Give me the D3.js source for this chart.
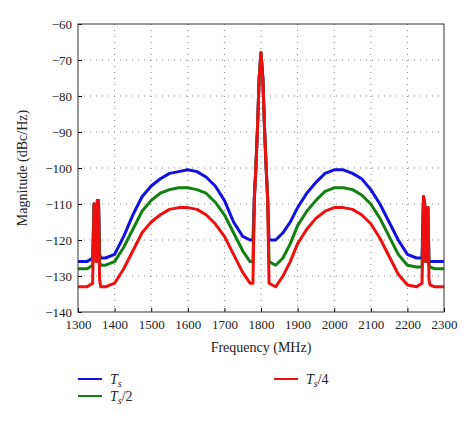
<!DOCTYPE html><html><head><meta charset="utf-8"><script src="https://cdn.jsdelivr.net/npm/d3@7"></script>
<style>body{margin:0;background:#fff}text{font-family:"Liberation Serif","DejaVu Serif",serif}</style></head><body><svg id="c" width="474" height="422"></svg>
<script>
const freq=[1300,1325,1340,1344,1347,1350,1353,1356,1359,1362,1375,1400,1425,1450,1475,1500,1525,1550,1575,1600,1625,1650,1675,1700,1725,1750,1770,1778,1782,1785,1790,1795,1800,1805,1810,1815,1818,1822,1840,1860,1880,1900,1925,1950,1975,2000,2025,2050,2075,2100,2125,2150,2175,2200,2225,2240,2244,2247,2250,2253,2256,2259,2262,2275,2300];
const ts =[-126,-126,-125,-110,-113,-126,-109,-109,-124,-125,-125,-124,-119,-113,-108,-105,-103,-101.5,-101,-100.5,-101,-102.5,-105,-109,-115,-119,-120,-120,-108,-102,-90,-75,-68,-75,-90,-102,-108,-120,-120,-118,-115,-111,-107,-104,-101.5,-100.5,-100.5,-101.5,-103,-106,-110,-115,-120,-124,-125,-125,-108,-110,-126,-111,-111,-126,-126,-126,-126];
const ts2=[-128,-128,-127,-110,-113,-126,-109,-109,-126,-127,-127,-126,-122,-117,-112,-109,-107,-106,-105.5,-105.5,-106,-107,-109.5,-113,-118,-123,-126,-126,-108,-102,-90,-75,-68,-75,-90,-102,-108,-126,-127,-125,-121,-116,-112,-109,-106.5,-105.5,-105.5,-106,-107.5,-110,-114,-119,-124,-127,-127.5,-127.5,-108,-110,-126,-111,-111,-127,-127.5,-128,-128];
const ts4=[-133,-133,-132,-110,-113,-126,-109,-109,-131,-133,-133,-132,-128,-123,-118,-115,-113,-111.5,-111,-111,-111.5,-113,-115.5,-119,-124,-129,-132,-132,-108,-102,-90,-75,-68,-75,-90,-102,-108,-132,-133,-130,-126,-121,-117,-114,-112,-111,-111,-111.5,-113,-115.5,-119.5,-124.5,-129.5,-132.5,-133,-132,-108,-110,-126,-111,-111,-131,-132.5,-133,-133];
const xTicks=d3.range(1300,2301,100), yTicks=d3.range(-140,-59,10);
const svg=d3.select("#c"),L=78,R=444,T=24,B=312;
const x=d3.scaleLinear([1300,2300],[L,R]), y=d3.scaleLinear([-140,-60],[B,T]);
const g=svg.append("g");
g.selectAll(".gx").data(xTicks.slice(1,-1)).join("line").attr("x1",x).attr("x2",x).attr("y1",T).attr("y2",B).attr("stroke","#888").attr("stroke-dasharray","1,5");
g.selectAll(".gy").data(yTicks.slice(1,-1)).join("line").attr("y1",y).attr("y2",y).attr("x1",L).attr("x2",R).attr("stroke","#888").attr("stroke-dasharray","1,5");
const line=v=>d3.line().x((d,i)=>x(freq[i])).y(d=>y(d))(v);
[[ts,"#1010e0"],[ts2,"#108010"],[ts4,"#ee1010"]].forEach(([v,c])=>svg.append("path").attr("d",line(v)).attr("fill","none").attr("stroke",c).attr("stroke-width",3).attr("stroke-linejoin","round"));
svg.append("g").attr("transform",`translate(0,${B})`).call(d3.axisBottom(x).tickValues(xTicks).tickSize(-4).tickPadding(8).tickFormat(d3.format("d"))).call(a=>a.selectAll("text").attr("font-size",13).attr("fill","#222"));
svg.append("g").attr("transform",`translate(${L},0)`).call(d3.axisLeft(y).tickValues(yTicks).tickSize(-4).tickPadding(6).tickFormat(d=>"\u2212"+Math.abs(d))).call(a=>a.selectAll("text").attr("font-size",13).attr("fill","#222"));
svg.selectAll(".domain").remove();
svg.append("rect").attr("x",L).attr("y",T).attr("width",R-L).attr("height",B-T).attr("fill","none").attr("stroke","#333");
svg.append("text").attr("x",(L+R)/2).attr("y",352).attr("text-anchor","middle").attr("font-size",14).attr("fill","#222").text("Frequency (MHz)");
svg.append("text").attr("transform",`translate(27,${(T+B)/2}) rotate(-90)`).attr("text-anchor","middle").attr("font-size",14).attr("fill","#222").text("Magnitude (dBc/Hz)");
const leg=[["#1010e0",78,379,""],["#108010",78,396,"/2"],["#ee1010",274,379,"/4"]];
leg.forEach(([c,lx,ly,s])=>{svg.append("line").attr("x1",lx).attr("x2",lx+24).attr("y1",ly).attr("y2",ly).attr("stroke",c).attr("stroke-width",2);
const t=svg.append("text").attr("x",lx+32).attr("y",ly+5).attr("font-size",14).attr("fill","#222");
t.append("tspan").attr("font-style","italic").text("T");t.append("tspan").attr("font-style","italic").attr("font-size",10).attr("dy",3).text("s");t.append("tspan").attr("dy",-3).text(s);});
</script></body></html>
